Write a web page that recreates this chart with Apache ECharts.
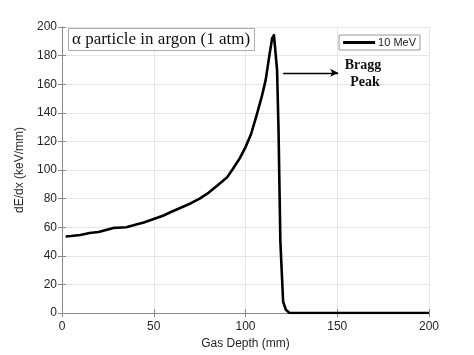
<!DOCTYPE html>
<html><head><meta charset="utf-8">
<script src="https://cdn.jsdelivr.net/npm/echarts@6/dist/echarts.min.js"></script>
<style>html,body{margin:0;padding:0;background:#fff}#c{width:474px;height:355px}</style>
</head><body><div id="c"></div>
<script>
// Gas depth (mm)
const depth = [2, 5, 10, 15, 20, 25, 28, 30, 35, 40, 45, 50, 55, 60, 65, 70, 75, 80, 85, 90, 93, 97, 100, 103, 106, 109, 111, 113, 114.5, 115.5, 116.3, 117.2, 118, 119, 120.5, 122, 124, 130, 150, 175, 200];
// dE/dx (keV/mm)
const dEdx = [53.5, 53.8, 54.5, 56, 56.6, 58.4, 59.5, 59.6, 60, 61.7, 63.5, 65.8, 68, 71, 73.8, 76.6, 80, 84.2, 89.5, 95, 100.5, 108.5, 116, 125, 138, 152, 163, 180, 192, 194.3, 194, 170, 128, 50, 8, 2.3, 0, 0, 0, 0, 0];
const seriesName = '10 MeV';
const xTicks = {min: 0, max: 200, interval: 50};
const yTicks = {min: 0, max: 200, interval: 20};

const chart = echarts.init(document.getElementById('c'), null, {renderer: 'canvas'});
const axisCol = '#8a8a8a';
const labelCol = '#262626';
const gridCol = '#e6e6e6';
chart.setOption({
  animation: false,
  backgroundColor: '#fff',
  grid: {left: 62, right: 45, top: 27, bottom: 40},
  title: {
    text: 'α particle in argon (1 atm)',
    left: 68, top: 28,
    padding: [3, 5, 3, 4],
    borderColor: '#aaa', borderWidth: 1, backgroundColor: '#fff',
    textStyle: {fontFamily: 'Liberation Serif', fontSize: 17, fontWeight: 'normal', color: '#111'}
  },
  legend: {
    data: [seriesName],
    right: 54, top: 35,
    padding: [2, 4, 2, 4],
    borderColor: '#999', borderWidth: 1, backgroundColor: '#fff',
    itemWidth: 32, itemHeight: 3, itemGap: 5,
    icon: 'rect',
    textStyle: {fontFamily: 'Liberation Sans', fontSize: 11, color: '#222', padding: [0,0,0,-2]}
  },
  xAxis: [{
    type: 'value', min: xTicks.min, max: xTicks.max, interval: xTicks.interval,
    name: 'Gas Depth (mm)', nameLocation: 'middle', nameGap: 25,
    nameTextStyle: {fontFamily: 'Liberation Sans', fontSize: 12, color: labelCol},
    axisLine: {lineStyle: {color: axisCol, width: 1}},
    axisTick: {inside: true, length: 4, lineStyle: {color: axisCol}},
    axisLabel: {fontFamily: 'Liberation Sans', fontSize: 12, color: labelCol, margin: 8},
    splitLine: {show: true, lineStyle: {color: gridCol, width: 1}}
  }, {
    type: 'value', position: 'top', min: xTicks.min, max: xTicks.max, interval: xTicks.interval,
    axisLine: {show: true, lineStyle: {color: axisCol, width: 1}},
    axisTick: {show: true, inside: true, length: 4, lineStyle: {color: axisCol}},
    axisLabel: {show: false}, splitLine: {show: false}
  }],
  yAxis: [{
    type: 'value', min: yTicks.min, max: yTicks.max, interval: yTicks.interval,
    name: 'dE/dx (keV/mm)', nameLocation: 'middle', nameGap: 29,
    nameTextStyle: {fontFamily: 'Liberation Sans', fontSize: 12, color: labelCol},
    axisLine: {show: true, lineStyle: {color: axisCol, width: 1}},
    axisTick: {show: true, inside: true, length: 4, lineStyle: {color: axisCol}},
    axisLabel: {fontFamily: 'Liberation Sans', fontSize: 12, color: labelCol, margin: 5},
    splitLine: {show: true, lineStyle: {color: gridCol, width: 1}}
  }, {
    type: 'value', position: 'right', min: yTicks.min, max: yTicks.max, interval: yTicks.interval,
    axisLine: {show: true, lineStyle: {color: axisCol, width: 1}},
    axisTick: {show: true, inside: true, length: 4, lineStyle: {color: axisCol}},
    axisLabel: {show: false}, splitLine: {show: false}
  }],
  series: [{
    name: seriesName, type: 'line',
    data: depth.map((d, i) => [d, dEdx[i]]),
    showSymbol: false, symbol: 'none',
    lineStyle: {color: '#000', width: 2.6, join: 'round'},
    itemStyle: {color: '#000'},
    markLine: {
      silent: true, symbol: ['none', 'arrow'], symbolSize: [6, 8],
      lineStyle: {color: '#000', width: 1.3, type: 'solid'},
      label: {show: false},
      data: [[{coord: [120.5, 168]}, {coord: [150.5, 168]}]]
    }
  }],
  graphic: [{
    type: 'text', x: 363, y: 65, z: 100,
    style: {text: 'Bragg', font: 'bold 14px "Liberation Serif"', fill: '#111', align: 'center', verticalAlign: 'middle'}
  }, {
    type: 'text', x: 365, y: 82, z: 100,
    style: {text: 'Peak', font: 'bold 14px "Liberation Serif"', fill: '#111', align: 'center', verticalAlign: 'middle'}
  }]
});
</script></body></html>
